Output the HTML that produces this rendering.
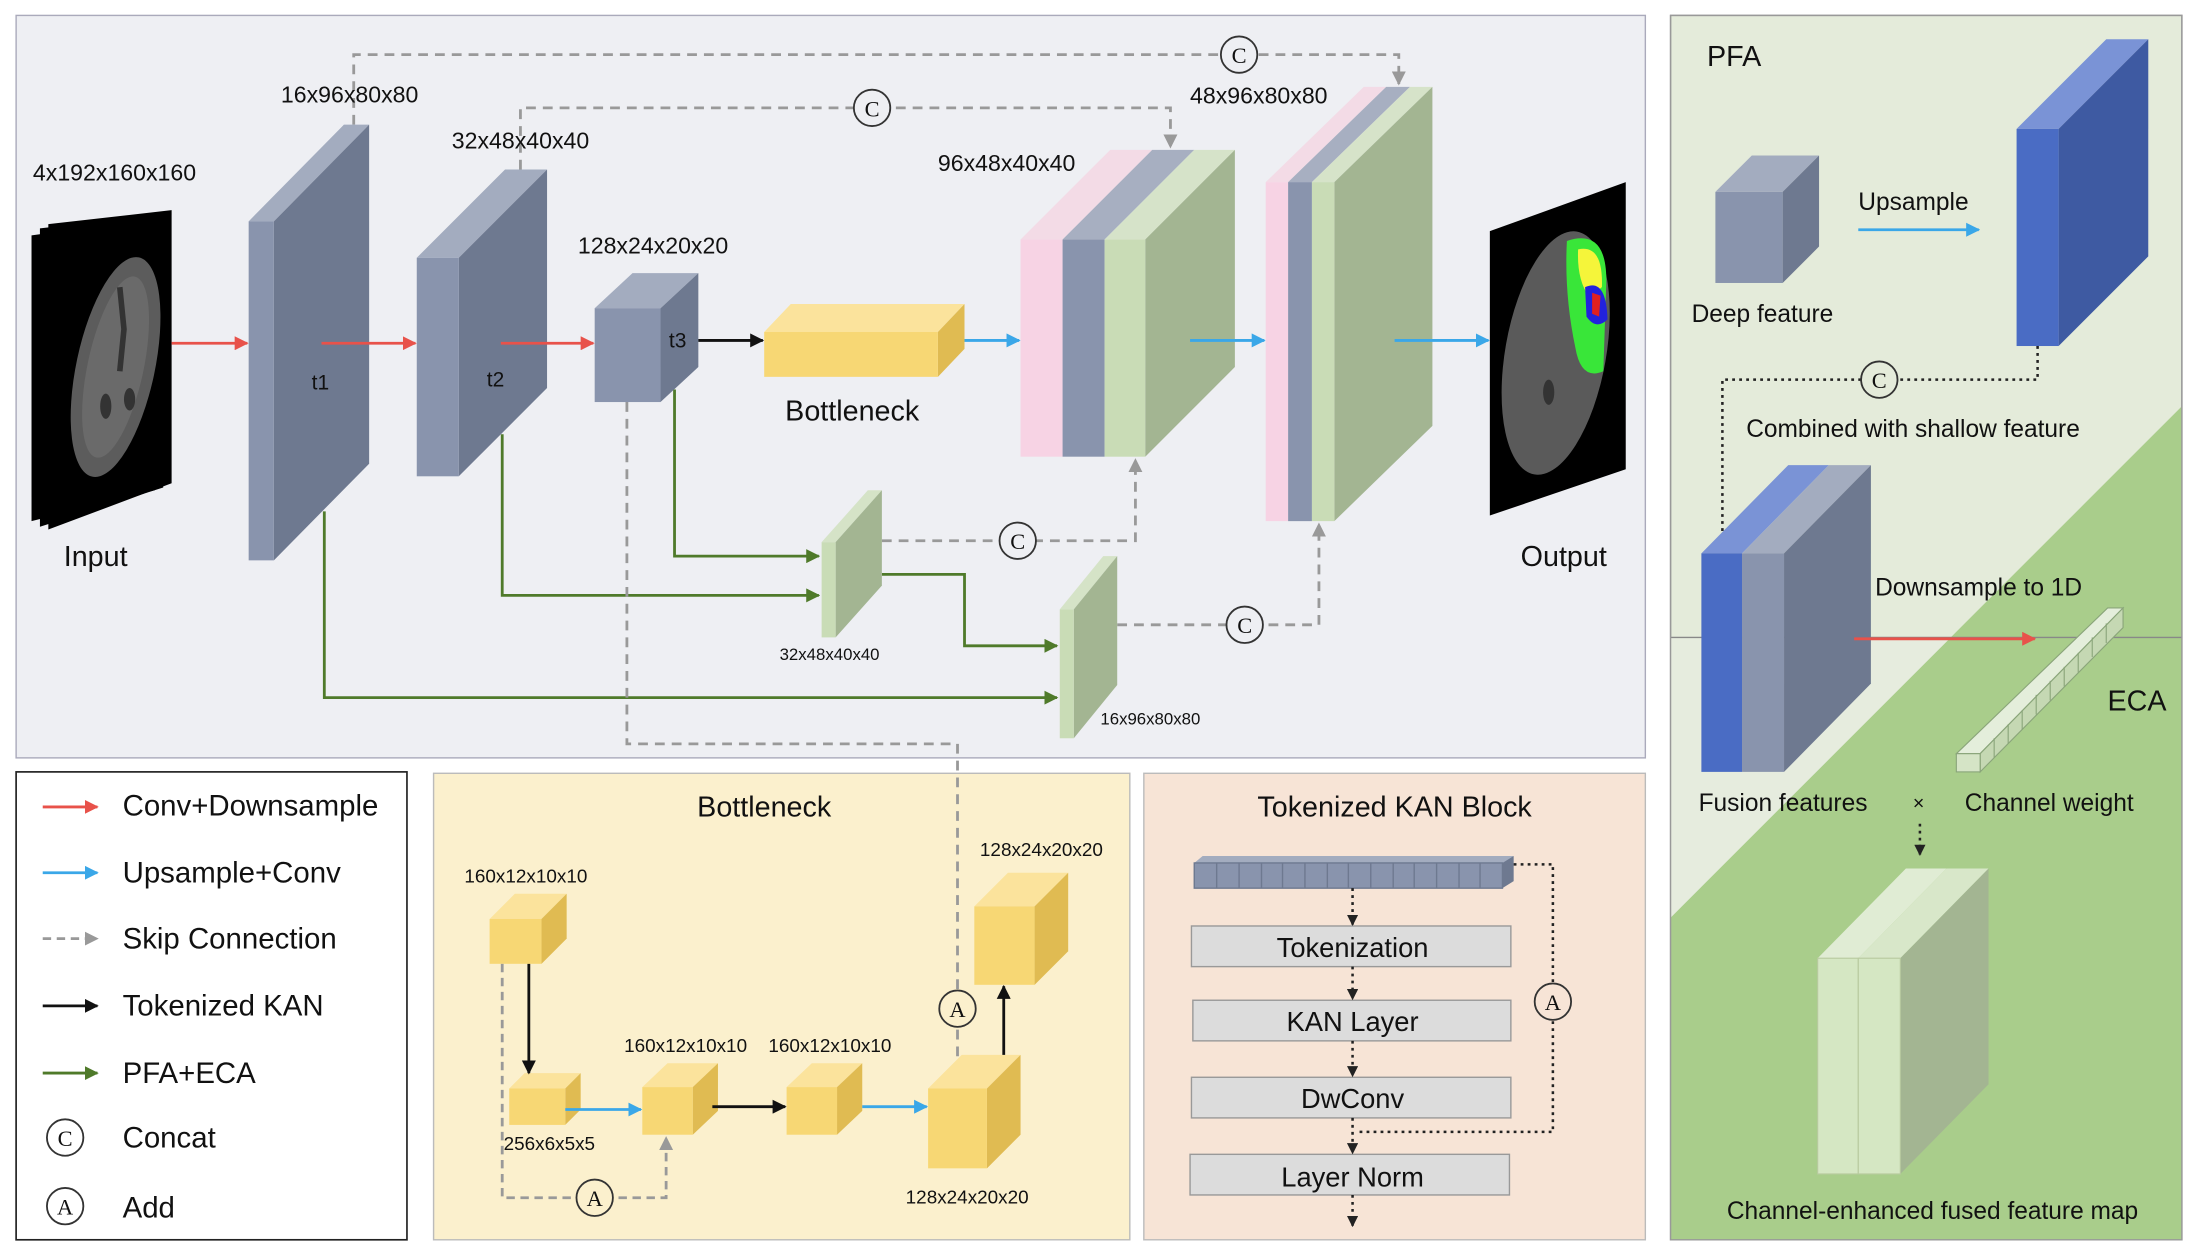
<!DOCTYPE html>
<html><head><meta charset="utf-8"><style>
html,body{margin:0;padding:0;background:#fff;}
svg{display:block;}
text{font-family:"Liberation Sans",Arial,sans-serif;fill:#111;}
text.s{font-family:"Liberation Serif",serif;}
</style></head><body>
<svg width="2198" height="1258" viewBox="0 0 1568 898" xmlns="http://www.w3.org/2000/svg">
<defs>
<marker id="ar" markerWidth="10" markerHeight="10" refX="9" refY="5" orient="auto" markerUnits="userSpaceOnUse"><path d="M0,0 L10,5 L0,10 z" fill="#e8524a"/></marker>
<marker id="ab" markerWidth="10" markerHeight="10" refX="9" refY="5" orient="auto" markerUnits="userSpaceOnUse"><path d="M0,0 L10,5 L0,10 z" fill="#3aa7e8"/></marker>
<marker id="ak" markerWidth="10" markerHeight="10" refX="9" refY="5" orient="auto" markerUnits="userSpaceOnUse"><path d="M0,0 L10,5 L0,10 z" fill="#111"/></marker>
<marker id="ag" markerWidth="10" markerHeight="10" refX="9" refY="5" orient="auto" markerUnits="userSpaceOnUse"><path d="M0,0 L10,5 L0,10 z" fill="#4f7a2a"/></marker>
<marker id="ay" markerWidth="10" markerHeight="10" refX="9" refY="5" orient="auto" markerUnits="userSpaceOnUse"><path d="M0,0 L10,5 L0,10 z" fill="#999"/></marker>
<marker id="ad" markerWidth="8" markerHeight="8" refX="7" refY="4" orient="auto" markerUnits="userSpaceOnUse"><path d="M0,0 L8,4 L0,8 z" fill="#222"/></marker>
</defs>

<rect x="11" y="11" width="1163" height="530" fill="#eeeff3" stroke="#aab" stroke-width="1"/>

<rect x="1192" y="11" width="365" height="874" fill="#e4ebda" stroke="#999"/>
<polygon points="1192,655 1557,290 1557,885 1192,885" fill="#a9cd8b"/>
<polygon points="1192,455 1392,455 1192,655" fill="#e6ecde"/>
<line x1="1192" y1="455" x2="1557" y2="455" stroke="#888" stroke-width="1"/>
<rect x="1192" y="11" width="365" height="874" fill="none" stroke="#999"/>

<rect x="11" y="551" width="279" height="334" fill="#fff" stroke="#222" stroke-width="1.2"/>
<rect x="309" y="552" width="497" height="333" fill="#fbf0cd" stroke="#bbb"/>
<rect x="816" y="552" width="358" height="333" fill="#f7e4d6" stroke="#bbb"/>

<polyline points="252,89 252,39 998,39 998,60" fill="none" stroke="#999" stroke-width="2" stroke-dasharray="7,5" marker-end="url(#ay)"/>
<polyline points="371,121 371,77 835,77 835,105" fill="none" stroke="#999" stroke-width="2" stroke-dasharray="7,5" marker-end="url(#ay)"/>

<polyline points="481,278 481,397 584,397" fill="none" stroke="#4f7a2a" stroke-width="2" marker-end="url(#ag)"/>
<polyline points="358,310 358,425 584,425" fill="none" stroke="#4f7a2a" stroke-width="2" marker-end="url(#ag)"/>
<polyline points="231,365 231,498 754,498" fill="none" stroke="#4f7a2a" stroke-width="2" marker-end="url(#ag)"/>
<polyline points="629,410 688,410 688,461 754,461" fill="none" stroke="#4f7a2a" stroke-width="2" marker-end="url(#ag)"/>

<polyline points="629,386 810,386 810,328" fill="none" stroke="#999" stroke-width="2" stroke-dasharray="7,5" marker-end="url(#ay)"/>
<polyline points="797,446 941,446 941,374" fill="none" stroke="#999" stroke-width="2" stroke-dasharray="7,5" marker-end="url(#ay)"/>
<polyline points="447,287 447,531 683,531 683,775" fill="none" stroke="#999" stroke-width="2" stroke-dasharray="7,5" marker-end="url(#ay)"/>

<!-- Input brain stack -->
<polygon points="34,160 122,150 122,345 34,378" fill="#000"/>
<polygon points="28,163 116,153 116,348 28,376" fill="#000"/>
<polygon points="22,168 110,156 110,350 22,372" fill="#000"/>
<ellipse cx="82" cy="262" rx="28" ry="80" fill="#5c5c5c" transform="rotate(12 82 262)"/>
<ellipse cx="82" cy="262" rx="20" ry="66" fill="#6a6a6a" transform="rotate(12 82 262)"/>
<path d="M85,205 L88,235 L85,265" stroke="#333" stroke-width="4" fill="none"/>
<ellipse cx="75" cy="290" rx="4" ry="9" fill="#333"/><ellipse cx="92" cy="285" rx="4" ry="8" fill="#333"/>

<!-- t1 -->
<polygon points="177,158 245,89 263,89 195,158" fill="#a3acbf"/>
<polygon points="195,158 263,89 263,331 195,400" fill="#6e7990"/>
<rect x="177" y="158" width="18" height="242" fill="#8994ad"/>
<polygon points="297,184 360,121 390,121 327,184" fill="#a3acbf"/>
<polygon points="327,184 390,121 390,277 327,340" fill="#6e7990"/>
<rect x="297" y="184" width="30" height="156" fill="#8994ad"/>
<polygon points="424,220 451,195 498,195 471,220" fill="#a3acbf"/>
<polygon points="471,220 498,195 498,262 471,287" fill="#6e7990"/>
<rect x="424" y="220" width="47" height="67" fill="#8994ad"/>
<polygon points="545,237 564,217 688,217 669,237" fill="#fbe39c"/>
<polygon points="669,237 688,217 688,249 669,269" fill="#e0bb52"/>
<rect x="545" y="237" width="124" height="32" fill="#f7d774"/>

<polygon points="728,171 792,107 822,107 758,171" fill="#f3dbe6"/>
<polygon points="758,171 822,107 852,107 788,171" fill="#a7afc1"/>
<polygon points="788,171 852,107 881,107 817,171" fill="#d6e3c9"/>
<polygon points="817,171 881,107 881,262 817,326" fill="#a3b592"/>
<rect x="728" y="171" width="30" height="155" fill="#f7d3e4"/>
<rect x="758" y="171" width="30" height="155" fill="#8994ad"/>
<rect x="788" y="171" width="29" height="155" fill="#c9dcb6"/>
<polygon points="903,130 973,62 989,62 919,130" fill="#f3dbe6"/>
<polygon points="919,130 989,62 1006,62 936,130" fill="#a7afc1"/>
<polygon points="936,130 1006,62 1022,62 952,130" fill="#d6e3c9"/>
<polygon points="952,130 1022,62 1022,304 952,372" fill="#a3b592"/>
<rect x="903" y="130" width="16" height="242" fill="#f7d3e4"/>
<rect x="919" y="130" width="17" height="242" fill="#8994ad"/>
<rect x="936" y="130" width="16" height="242" fill="#c9dcb6"/>

<polygon points="586,387 619,350 629,350 596,387" fill="#d5e3c7"/>
<polygon points="596,387 629,350 629,418 596,455" fill="#a3b592"/>
<rect x="586" y="387" width="10" height="68" fill="#c9dcb6"/>
<polygon points="756,435 787,397 797,397 766,435" fill="#d5e3c7"/>
<polygon points="766,435 797,397 797,489 766,527" fill="#a3b592"/>
<rect x="756" y="435" width="10" height="92" fill="#c9dcb6"/>

<!-- Output brain -->
<polygon points="1063,165 1160,130 1160,335 1063,368" fill="#000"/>
<ellipse cx="1110" cy="252" rx="36" ry="88" fill="#5a5a5a" transform="rotate(10 1110 252)"/>
<ellipse cx="1105" cy="280" rx="4" ry="9" fill="#333"/>
<path d="M1118,172 Q1148,162 1146,205 L1144,265 Q1128,272 1124,248 Q1116,210 1118,172z" fill="#39e639"/>
<path d="M1126,178 Q1144,174 1143,205 L1134,212 Q1125,200 1126,178z" fill="#f5f53a"/>
<path d="M1131,205 Q1146,198 1147,228 Q1139,236 1132,226z" fill="#2222dd"/>
<path d="M1136,209 L1142,211 L1141,226 L1136,224z" fill="#e02020"/>

<line x1="122" y1="245" x2="176" y2="245" stroke="#e8524a" stroke-width="2" marker-end="url(#ar)"/>
<line x1="229" y1="245" x2="296" y2="245" stroke="#e8524a" stroke-width="2" marker-end="url(#ar)"/>
<line x1="357" y1="245" x2="423" y2="245" stroke="#e8524a" stroke-width="2" marker-end="url(#ar)"/>
<line x1="498" y1="243" x2="544" y2="243" stroke="#111" stroke-width="2" marker-end="url(#ak)"/>
<line x1="688" y1="243" x2="727" y2="243" stroke="#3aa7e8" stroke-width="2" marker-end="url(#ab)"/>
<line x1="849" y1="243" x2="902" y2="243" stroke="#3aa7e8" stroke-width="2" marker-end="url(#ab)"/>
<line x1="995" y1="243" x2="1062" y2="243" stroke="#3aa7e8" stroke-width="2" marker-end="url(#ab)"/>

<g fill="#eeeff3" stroke="#333" stroke-width="1.3">
<circle cx="884" cy="39" r="13"/><circle cx="622" cy="77" r="13"/>
<circle cx="726" cy="386" r="13"/><circle cx="888" cy="446" r="13"/>
</g>
<g font-size="16" text-anchor="middle">
<text class="s" x="884" y="45">C</text><text class="s" x="622" y="83">C</text><text class="s" x="726" y="392">C</text><text class="s" x="888" y="452">C</text>
</g>

<g font-size="16.5">
<text x="23" y="129">4x192x160x160</text>
<text x="200" y="73">16x96x80x80</text>
<text x="322" y="106">32x48x40x40</text>
<text x="412" y="181">128x24x20x20</text>
<text x="669" y="122">96x48x40x40</text>
<text x="849" y="74">48x96x80x80</text>
<text x="222" y="278" font-size="15">t1</text>
<text x="347" y="276" font-size="15">t2</text>
<text x="477" y="248" font-size="15">t3</text>
</g>
<text x="560" y="300" font-size="20.5">Bottleneck</text>
<text x="45" y="404" font-size="20.5">Input</text>
<text x="1085" y="404" font-size="20.5">Output</text>
<text x="556" y="471" font-size="12">32x48x40x40</text>
<text x="785" y="517" font-size="12">16x96x80x80</text>

<!-- Legend -->
<line x1="30" y1="576" x2="69" y2="576" stroke="#e8524a" stroke-width="2" marker-end="url(#ar)"/>
<line x1="30" y1="623" x2="69" y2="623" stroke="#3aa7e8" stroke-width="2" marker-end="url(#ab)"/>
<line x1="30" y1="670" x2="69" y2="670" stroke="#999" stroke-width="2" stroke-dasharray="6,4" marker-end="url(#ay)"/>
<line x1="30" y1="718" x2="69" y2="718" stroke="#111" stroke-width="2" marker-end="url(#ak)"/>
<line x1="30" y1="766" x2="69" y2="766" stroke="#4f7a2a" stroke-width="2" marker-end="url(#ag)"/>
<circle cx="46" cy="812" r="13" fill="#fff" stroke="#333" stroke-width="1.3"/>
<circle cx="46" cy="861" r="13" fill="#fff" stroke="#333" stroke-width="1.3"/>
<text class="s" x="46" y="818" font-size="16" text-anchor="middle">C</text>
<text class="s" x="46" y="867" font-size="16" text-anchor="middle">A</text>
<g font-size="21">
<text x="87" y="582">Conv+Downsample</text>
<text x="87" y="630">Upsample+Conv</text>
<text x="87" y="677">Skip Connection</text>
<text x="87" y="725">Tokenized KAN</text>
<text x="87" y="773">PFA+ECA</text>
<text x="87" y="819">Concat</text>
<text x="87" y="869">Add</text>
</g>

<!-- Bottleneck panel -->
<text x="545" y="583" font-size="20.5" text-anchor="middle">Bottleneck</text>
<g font-size="13.5">
<text x="331" y="630">160x12x10x10</text>
<text x="359" y="821">256x6x5x5</text>
<text x="445" y="751">160x12x10x10</text>
<text x="548" y="751">160x12x10x10</text>
<text x="699" y="611">128x24x20x20</text>
<text x="646" y="859">128x24x20x20</text>
</g>
<g>
<polygon points="349,656 367,638 404,638 386,656" fill="#fbe39c"/><polygon points="386,656 404,638 404,670 386,688" fill="#e0bb52"/><rect x="349" y="656" width="37" height="32" fill="#f7d774"/>
<polygon points="363,777 374,766 414,766 403,777" fill="#fbe39c"/><polygon points="403,777 414,766 414,792 403,803" fill="#e0bb52"/><rect x="363" y="777" width="40" height="26" fill="#f7d774"/>
<polygon points="458,776 476,759 512,759 494,776" fill="#fbe39c"/><polygon points="494,776 512,759 512,793 494,810" fill="#e0bb52"/><rect x="458" y="776" width="36" height="34" fill="#f7d774"/>
<polygon points="561,776 579,759 615,759 597,776" fill="#fbe39c"/><polygon points="597,776 615,759 615,793 597,810" fill="#e0bb52"/><rect x="561" y="776" width="36" height="34" fill="#f7d774"/>
<polygon points="662,777 686,753 728,753 704,777" fill="#fbe39c"/><polygon points="704,777 728,753 728,810 704,834" fill="#e0bb52"/><rect x="662" y="777" width="42" height="57" fill="#f7d774"/>
<polygon points="695,647 719,623 762,623 738,647" fill="#fbe39c"/><polygon points="738,647 762,623 762,679 738,703" fill="#e0bb52"/><rect x="695" y="647" width="43" height="56" fill="#f7d774"/>
</g>
<line x1="377" y1="688" x2="377" y2="766" stroke="#111" stroke-width="2" marker-end="url(#ak)"/>
<line x1="403" y1="792" x2="457" y2="792" stroke="#3aa7e8" stroke-width="2" marker-end="url(#ab)"/>
<line x1="508" y1="790" x2="560" y2="790" stroke="#111" stroke-width="2" marker-end="url(#ak)"/>
<line x1="615" y1="790" x2="661" y2="790" stroke="#3aa7e8" stroke-width="2" marker-end="url(#ab)"/>
<line x1="716" y1="753" x2="716" y2="704" stroke="#111" stroke-width="2" marker-end="url(#ak)"/>
<polyline points="358,688 358,855 475,855 475,812" fill="none" stroke="#999" stroke-width="2" stroke-dasharray="6,4" marker-end="url(#ay)"/>
<circle cx="424" cy="855" r="13" fill="#fbf0cd" stroke="#333" stroke-width="1.3"/>
<text class="s" x="424" y="861" font-size="16" text-anchor="middle">A</text>
<circle cx="683" cy="720" r="13" fill="#fbf0cd" stroke="#333" stroke-width="1.3"/>
<text class="s" x="683" y="726" font-size="16" text-anchor="middle">A</text>

<!-- KAN panel -->
<text x="995" y="583" font-size="20.5" text-anchor="middle">Tokenized KAN Block</text>
<polygon points="852,616 858,611 1080,611 1074,616" fill="#a3acbf"/>
<polygon points="1072,616 1080,611 1080,629 1072,634" fill="#6e7990"/>
<rect x="852" y="616" width="220" height="18" fill="#8994ad" stroke="#6e7990"/>
<g stroke="#6e7990"><line x1="868" y1="616" x2="868" y2="634"/><line x1="884" y1="616" x2="884" y2="634"/><line x1="900" y1="616" x2="900" y2="634"/><line x1="915" y1="616" x2="915" y2="634"/><line x1="931" y1="616" x2="931" y2="634"/><line x1="947" y1="616" x2="947" y2="634"/><line x1="962" y1="616" x2="962" y2="634"/><line x1="978" y1="616" x2="978" y2="634"/><line x1="994" y1="616" x2="994" y2="634"/><line x1="1009" y1="616" x2="1009" y2="634"/><line x1="1025" y1="616" x2="1025" y2="634"/><line x1="1041" y1="616" x2="1041" y2="634"/><line x1="1056" y1="616" x2="1056" y2="634"/></g>
<g fill="#dcdcdc" stroke="#999">
<rect x="850" y="661" width="228" height="29"/><rect x="851" y="714" width="227" height="29"/>
<rect x="850" y="769" width="228" height="29"/><rect x="849" y="824" width="228" height="29"/>
</g>
<g font-size="19.5" text-anchor="middle">
<text x="965" y="683">Tokenization</text><text x="965" y="736">KAN Layer</text>
<text x="965" y="791">DwConv</text><text x="965" y="847">Layer Norm</text>
</g>
<g fill="none" stroke="#222" stroke-width="1.8" stroke-dasharray="2,3">
<line x1="965" y1="634" x2="965" y2="660" marker-end="url(#ad)"/>
<line x1="965" y1="690" x2="965" y2="713" marker-end="url(#ad)"/>
<line x1="965" y1="743" x2="965" y2="768" marker-end="url(#ad)"/>
<line x1="965" y1="798" x2="965" y2="823" marker-end="url(#ad)"/>
<line x1="965" y1="853" x2="965" y2="875" marker-end="url(#ad)"/>
<polyline points="1080,617 1108,617 1108,808 967,808"/>
</g>
<circle cx="1108" cy="715" r="13" fill="#f7e4d6" stroke="#333" stroke-width="1.3"/>
<text class="s" x="1108" y="721" font-size="16" text-anchor="middle">A</text>

<!-- PFA content -->
<text x="1218" y="47" font-size="20.5">PFA</text>
<polygon points="1224,137 1250,111 1298,111 1272,137" fill="#a3acbf"/>
<polygon points="1272,137 1298,111 1298,176 1272,202" fill="#6e7990"/>
<rect x="1224" y="137" width="48" height="65" fill="#8994ad"/>
<text x="1207" y="230" font-size="17.5">Deep feature</text>
<text x="1326" y="150" font-size="17.5">Upsample</text>
<line x1="1326" y1="164" x2="1412" y2="164" stroke="#3aa7e8" stroke-width="2" marker-end="url(#ab)"/>
<polygon points="1439,92 1503,28 1533,28 1469,92" fill="#7a93d6"/>
<polygon points="1469,92 1533,28 1533,183 1469,247" fill="#3e5aa2"/>
<rect x="1439" y="92" width="30" height="155" fill="#4a6cc4"/>
<polyline points="1454,247 1454,271 1229,271 1229,393" fill="none" stroke="#222" stroke-width="1.8" stroke-dasharray="2,3" marker-end="url(#ad)"/>
<circle cx="1341" cy="271" r="13" fill="#e4ebda" stroke="#333" stroke-width="1.3"/>
<text class="s" x="1341" y="277" font-size="16" text-anchor="middle">C</text>
<text x="1246" y="312" font-size="17.5">Combined with shallow feature</text>
<polygon points="1214,395 1276,332 1305,332 1243,395" fill="#7a93d6"/>
<polygon points="1243,395 1305,332 1335,332 1273,395" fill="#a3acbf"/>
<polygon points="1273,395 1335,332 1335,488 1273,551" fill="#6e7990"/>
<rect x="1214" y="395" width="29" height="156" fill="#4a6cc4"/>
<rect x="1243" y="395" width="30" height="156" fill="#8994ad"/>
<text x="1338" y="425" font-size="17.5">Downsample to 1D</text>
<line x1="1323" y1="456" x2="1452" y2="456" stroke="#e8524a" stroke-width="2" marker-end="url(#ar)"/>
<polygon points="1396,538 1504,434 1515,434 1413,538" fill="#e4eedb" stroke="#8aa57a" stroke-width="0.8"/>
<polygon points="1413,538 1515,434 1515,448 1413,551" fill="#c5d8b3" stroke="#8aa57a" stroke-width="0.8"/>
<rect x="1396" y="538" width="17" height="13" fill="#d5e4c6" stroke="#8aa57a" stroke-width="0.8"/>
<g stroke="#8aa57a" stroke-width="0.8">
<line x1="1423" y1="541" x2="1423" y2="527"/><line x1="1433" y1="531" x2="1433" y2="517"/><line x1="1443" y1="521" x2="1443" y2="507"/><line x1="1453" y1="510" x2="1453" y2="496"/><line x1="1463" y1="500" x2="1463" y2="486"/><line x1="1473" y1="490" x2="1473" y2="476"/><line x1="1483" y1="480" x2="1483" y2="466"/><line x1="1493" y1="469" x2="1493" y2="455"/><line x1="1503" y1="459" x2="1503" y2="445"/>
</g>
<text x="1525" y="507" font-size="20.5" text-anchor="middle">ECA</text>
<text x="1212" y="579" font-size="17.5">Fusion features</text>
<text x="1365" y="578" font-size="14">×</text>
<text x="1402" y="579" font-size="17.5">Channel weight</text>
<line x1="1370" y1="588" x2="1370" y2="610" stroke="#222" stroke-width="1.8" stroke-dasharray="2,3" marker-end="url(#ad)"/>
<polygon points="1297,684 1360,620 1389,620 1326,684" fill="#e0ecd4"/>
<polygon points="1326,684 1389,620 1419,620 1356,684" fill="#d8e7c9"/>
<polygon points="1356,684 1419,620 1419,774 1356,838" fill="#a3b592"/>
<rect x="1297" y="684" width="29" height="154" fill="#d5e7c3" stroke="#b8ca9f" stroke-width="0.8"/>
<rect x="1326" y="684" width="30" height="154" fill="#d5e7c3" stroke="#b8ca9f" stroke-width="0.8"/>
<text x="1379" y="870" font-size="17.5" text-anchor="middle">Channel-enhanced fused feature map</text>
</svg>
</body></html>
